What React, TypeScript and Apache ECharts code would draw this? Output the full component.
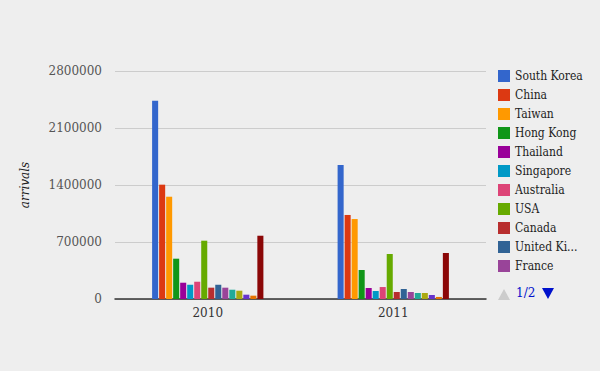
import React, { useEffect, useRef } from "react";
import * as echarts from "echarts";

const years = ["2010", "2011"];
const countries = [
  "South Korea", "China", "Taiwan", "Hong Kong", "Thailand", "Singapore",
  "Australia", "USA", "Canada", "United Kingdom", "France", "Germany",
  "Malaysia", "India", "Russia", "Others",
];
const arrivals2010 = [2435000, 1404000, 1256000, 495000, 200000, 175000, 212000, 716000, 139000, 175000, 139000, 114000, 102000, 53000, 41000, 777000];
const arrivals2011 = [1646000, 1032000, 982000, 356000, 135000, 98000, 147000, 553000, 86000, 123000, 86000, 74000, 74000, 49000, 25000, 565000];
const colors = ["#3366cc", "#dc3912", "#ff9900", "#109618", "#990099", "#0099c6", "#dd4477", "#66aa00", "#b82e2e", "#316395", "#994499", "#22aa99", "#aaaa11", "#6633cc", "#e67300", "#8b0707"];
const yTicks = { min: 0, max: 2800000, interval: 700000 };
const legendPageSize = 11;
const pageLabel = "1/2";

const FONT = "DejaVu Serif";
const LFONT = "'DejaVu Serif Condensed', 'DejaVu Serif'";

export default function App() {
  const ref = useRef<HTMLDivElement>(null);
  useEffect(() => {
    if (!ref.current) return;
    const chart = echarts.init(ref.current, undefined, { renderer: "svg" });
    chart.setOption({
      animation: false,
      backgroundColor: "#eeeeee",
      color: colors,
      grid: { left: 115, right: 114, top: 71, bottom: 72 },
      legend: {
        orient: "vertical",
        left: 498,
        top: 70,
        padding: 0,
        itemWidth: 12,
        itemHeight: 12,
        itemGap: 7,
        itemTextGap: 5,
        icon: "rect",
        data: countries.slice(0, legendPageSize),
        textStyle: { fontFamily: LFONT, fontSize: 12, color: "#222", width: 70, overflow: "truncate", ellipsis: "..." },
      },
      graphic: [
        { type: "polygon", shape: { points: [[498, 300], [504, 289], [510, 300]] }, style: { fill: "#cccccc" } },
        { type: "text", left: 516, top: 287, style: { text: pageLabel, fill: "#0011cc", font: `12px ${FONT}` } },
        { type: "polygon", shape: { points: [[542, 288], [554, 288], [548, 299]] }, style: { fill: "#0011cc" } },
      ],
      xAxis: {
        type: "category",
        data: years,
        axisLine: { lineStyle: { color: "#333", width: 1.5 } },
        axisTick: { show: false },
        axisLabel: { fontFamily: FONT, fontSize: 12, color: "#333", margin: 8 },
      },
      yAxis: {
        type: "value",
        min: yTicks.min,
        max: yTicks.max,
        interval: yTicks.interval,
        name: "arrivals",
        nameLocation: "middle",
        nameGap: 84,
        nameTextStyle: { fontFamily: FONT, fontSize: 12, fontStyle: "italic", color: "#222" },
        axisLine: { show: false },
        axisTick: { show: false },
        axisLabel: { fontFamily: FONT, fontSize: 12, color: "#555", margin: 13, formatter: (v: number) => String(v) },
        splitLine: { lineStyle: { color: "#cccccc", width: 1 } },
      },
      series: countries.map((c, i) => ({
        name: c,
        type: "bar",
        data: [arrivals2010[i], arrivals2011[i]],
        barGap: "16%",
        barCategoryGap: "40%",
      })),
    });
    return () => chart.dispose();
  }, []);
  return <div ref={ref} style={{ width: 600, height: 371, position: "absolute", left: 0, top: 0 }} />;
}
